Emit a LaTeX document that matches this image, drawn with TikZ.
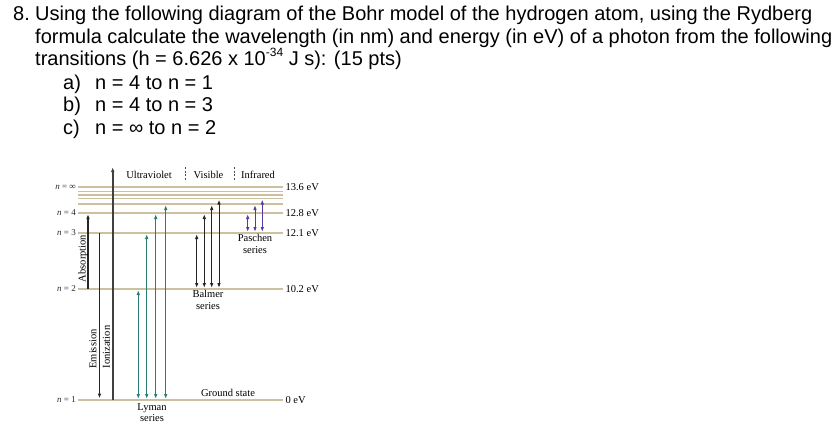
\documentclass[tikz,border=0pt]{standalone}
\usepackage{fontspec}
\setmainfont{Liberation Sans}
\newfontfamily\figfont{Liberation Serif}
\usetikzlibrary{arrows.meta}
\definecolor{levelcol}{RGB}{205,192,158}
\definecolor{lymancol}{RGB}{38,128,118}
\definecolor{paschencol}{RGB}{88,58,165}

\begin{document}
\begin{tikzpicture}[x=1pt,y=-1pt,
question/.style={anchor=base west,inner sep=0pt,font=\fontsize{20}{24}\selectfont},
level/.style={levelcol,line width=1.2pt},
elabel/.style={anchor=west,inner sep=2pt,text=black,font=\figfont\fontsize{10.5}{12}\selectfont},
nlabel/.style={anchor=east,inner sep=2pt,text=black!85,font=\figfont\fontsize{9}{10}\selectfont},
figtext/.style={inner sep=0pt,align=center,text=black,font=\figfont\fontsize{10.5}{11.5}\selectfont},
sidetext/.style={figtext,rotate=90},
tip/.style={-{Latex[length=5pt,width=3.6pt]}},
twotip/.style={{Latex[length=5pt,width=3.6pt]}-{Latex[length=5pt,width=3.6pt]},shorten <=1pt,shorten >=1pt,line width=1pt},
lyman/.style={twotip,lymancol},
balmer/.style={twotip,black!85},
paschen/.style={twotip,paschencol},
bandsep/.style={black!70,line width=0.6pt,dash pattern=on 2pt off 1.5pt}]

\useasboundingbox (0,0) rectangle (837,428);

% question text
\node[question] (num) at (13,20.7) {8.};
\node[question] (q1) at (35,20.7) {Using the following diagram of the Bohr model of the hydrogen atom, using the Rydberg};
\node[question] (q2) at (35,43.2) {formula calculate the wavelength (in nm) and energy (in eV) of a photon from the following};
\node[question] (q3) at (35,65.6) {transitions (h = 6.626 x 10\raisebox{0.45em}{\fontsize{12}{12}\selectfont -34} J s): (15 pts)};
\node[question] (pa) at (63,89) {a)};
\node[question] (ta) at (95,89) {n = 4 to n = 1};
\node[question] (pb) at (63,111.5) {b)};
\node[question] (tb) at (95,111.5) {n = 4 to n = 3};
\node[question] (pc) at (63,134.5) {c)};
\node[question] (tc) at (95,134.5) {n = ∞ to n = 2};

% energy levels
\draw[level] (78,187) coordinate (ninf) -- (283,187) node[elabel] (e136) {13.6 eV};
\draw[level] (78,191.5) coordinate (n8) -- (283,191.5);
\draw[level] (78,195) coordinate (n7) -- (283,195);
\draw[level] (78,198.5) coordinate (n6) -- (283,198.5);
\draw[level] (78,204) coordinate (n5) -- (283,204);
\draw[level] (78,213) coordinate (n4) -- (283,213) node[elabel] (e128) {12.8 eV};
\draw[level] (78,233) coordinate (n3) -- (283,233) node[elabel] (e121) {12.1 eV};
\draw[level] (78,289) coordinate (n2) -- (283,289) node[elabel] (e102) {10.2 eV};
\draw[level] (78,400) coordinate (n1) -- (283,400) node[elabel] (e0) {0 eV};

\node[nlabel] (lninf) at (ninf) {\textit{n} = ∞};
\node[nlabel] (ln4) at (n4) {\textit{n} = 4};
\node[nlabel] (ln3) at (n3) {\textit{n} = 3};
\node[nlabel] (ln2) at (n2) {\textit{n} = 2};
\node[nlabel] (ln1) at (n1) {\textit{n} = 1};

% bands
\node[figtext,anchor=base] (uv) at (149,178) {Ultraviolet};
\node[figtext,anchor=base] (vis) at (208.5,178) {Visible};
\node[figtext,anchor=base] (ir) at (258,178) {Infrared};
\coordinate (sepA) at (185,167);
\coordinate (sepB) at (234,167);
\draw[bandsep] (sepA) -- ++(0,14);
\draw[bandsep] (sepB) -- ++(0,14);

% arrow columns
\coordinate (absx) at (88,0);
\coordinate (emix) at (99.5,0);
\coordinate (ionx) at (112.7,0);
\coordinate (iontop) at (112.7,167);
\coordinate (lyA) at (138.3,0);
\coordinate (lyB) at (146.7,0);
\coordinate (lyC) at (155.7,0);
\coordinate (lyD) at (165.7,0);
\coordinate (baA) at (196.7,0);
\coordinate (baB) at (204.3,0);
\coordinate (baC) at (211.7,0);
\coordinate (baD) at (219,0);
\coordinate (paA) at (247.7,0);
\coordinate (paB) at (255,0);
\coordinate (paC) at (262.3,0);

\draw[tip,black!85,line width=1.1pt,shorten >=1pt] (absx |- n2) -- (absx |- n4);
\draw[tip,black!85,line width=1.1pt,shorten >=1.5pt] (emix |- n3) -- (emix |- n1);
\draw[tip,black!75,line width=1.8pt] (ionx |- n1) -- (iontop);
\node[sidetext] (absl) at (83,258.5) {Absorption};
\node[sidetext] (emil) at (93,349) {Emission};
\node[sidetext] (ionl) at (106.5,347) {Ionization};

% series
\draw[lyman] (lyA |- n1) -- (lyA |- n2);
\draw[lyman] (lyB |- n1) -- (lyB |- n3);
\draw[lyman] (lyC |- n1) -- (lyC |- n4);
\draw[lyman] (lyD |- n1) -- (lyD |- n5);
\draw[balmer] (baA |- n2) -- (baA |- n3);
\draw[balmer] (baB |- n2) -- (baB |- n4);
\draw[balmer] (baC |- n2) -- (baC |- n5);
\draw[balmer] (baD |- n2) -- (baD |- n6);
\draw[paschen] (paA |- n3) -- (paA |- n4);
\draw[paschen] (paB |- n3) -- (paB |- n5);
\draw[paschen] (paC |- n3) -- (paC |- n6);

\node[figtext,anchor=north] (lylab) at (152,403) {Lyman\\series};
\node[figtext,anchor=north] (balab) at (208,290.5) {Balmer\\series};
\node[figtext,anchor=north] (palab) at (255,234.5) {Paschen\\series};
\node[figtext,anchor=base] (ground) at (228,396) {Ground state};

\end{tikzpicture}
\end{document}
